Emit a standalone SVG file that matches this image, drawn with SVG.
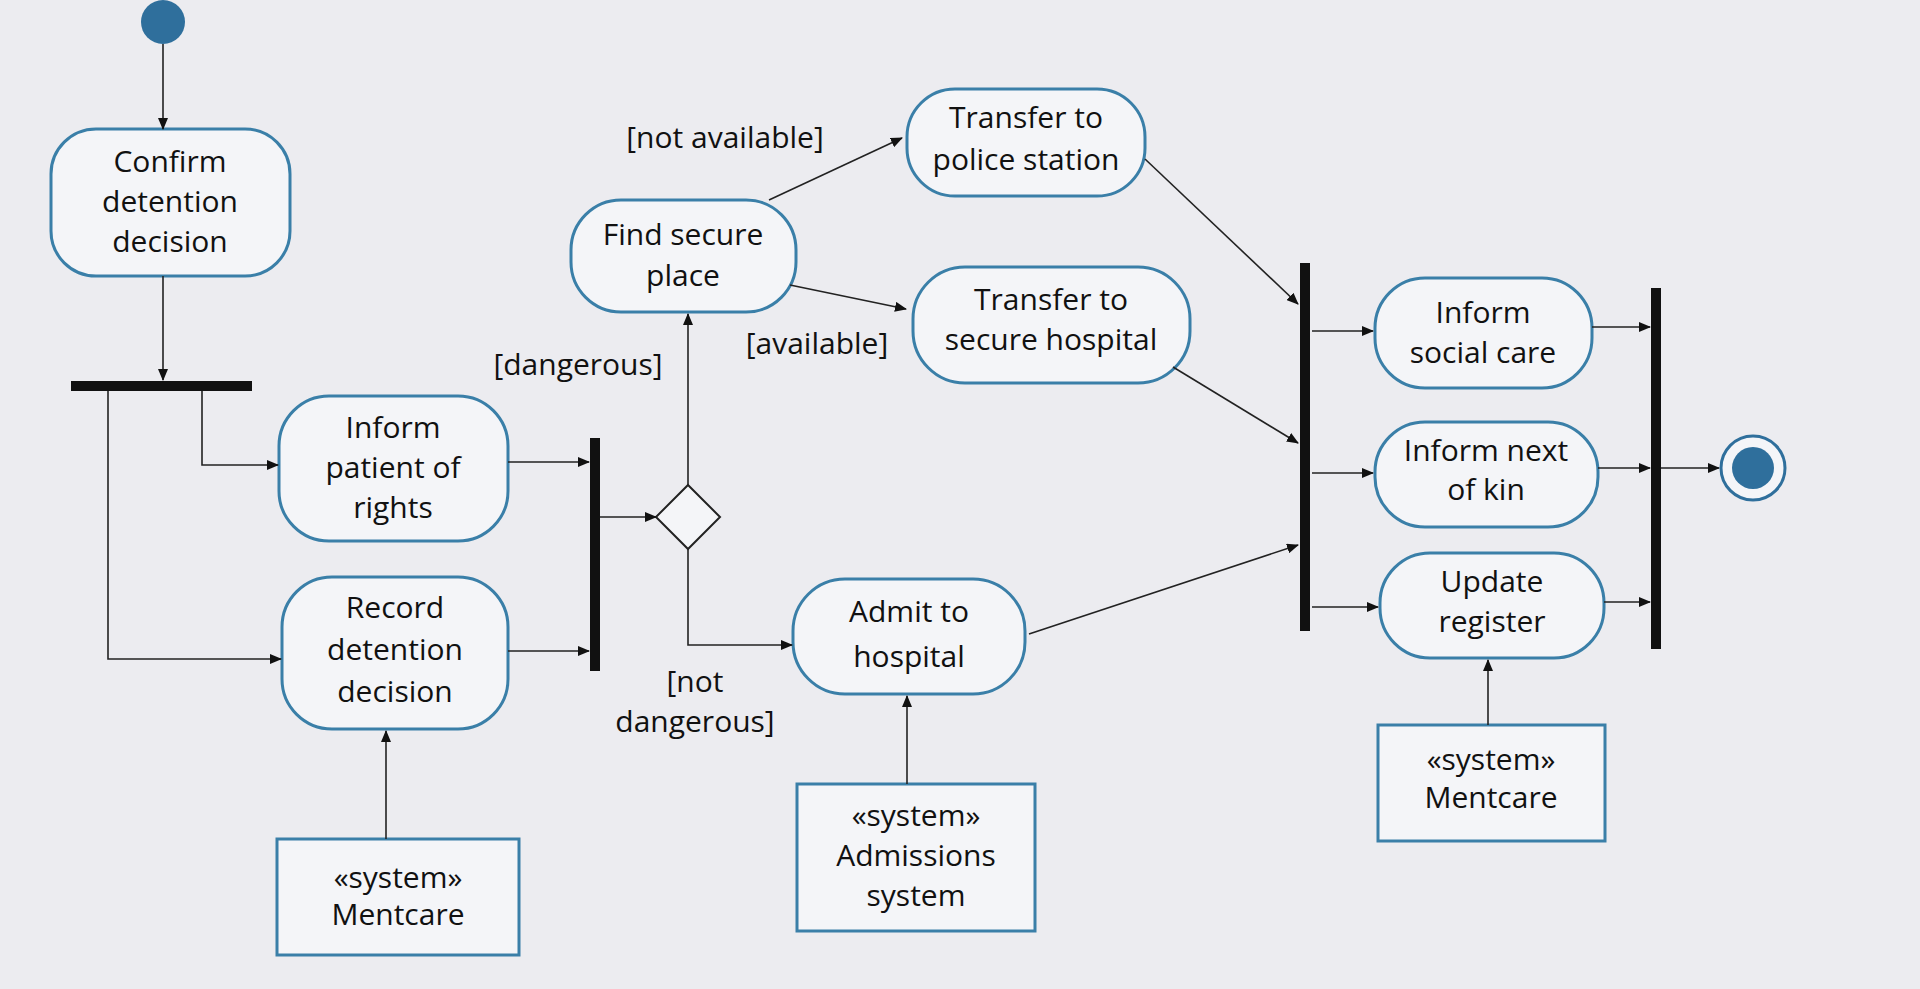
<svg xmlns="http://www.w3.org/2000/svg" width="1920" height="989" viewBox="0 0 1920 989">
<defs>
<marker id="ar" markerWidth="12" markerHeight="10" refX="11" refY="5" orient="auto" markerUnits="userSpaceOnUse"><path d="M0,0 L12,5 L0,10 z" fill="#111"/></marker>
<style>
.n{fill:#f4f5f8;stroke:#3a7fa8;stroke-width:3}
.t{font-family:"Open Sans","Liberation Sans",sans-serif;font-size:30px;fill:#111;text-anchor:middle}
.c{fill:none;stroke:#222;stroke-width:1.6;marker-end:url(#ar)}
.bar{fill:#111}
</style>
</defs>
<rect width="1920" height="989" fill="#ececf0"/>
<g id="start"><circle cx="163" cy="22" r="22" fill="#2f6f9c"/></g>
<g id="confirm"><rect class="n" x="51" y="129" width="239" height="147" rx="45"/><text class="t" x="170" y="172">Confirm</text><text class="t" x="170" y="212">detention</text><text class="t" x="170" y="252">decision</text></g>
<g id="fork1"><rect class="bar" x="71" y="381" width="181" height="10"/></g>
<g id="informPatient"><rect class="n" x="279" y="396" width="229" height="145" rx="50"/><text class="t" x="393" y="438">Inform</text><text class="t" x="393" y="478">patient of</text><text class="t" x="393" y="518">rights</text></g>
<g id="record"><rect class="n" x="282" y="577" width="226" height="152" rx="50"/><text class="t" x="395" y="618">Record</text><text class="t" x="395" y="660">detention</text><text class="t" x="395" y="702">decision</text></g>
<g id="join2"><rect class="bar" x="590" y="438" width="10" height="233"/></g>
<g id="decision"><polygon points="688,485 720,517 688,549 656,517" fill="#f4f5f8" stroke="#222" stroke-width="2"/></g>
<g id="findSecure"><rect class="n" x="571" y="200" width="225" height="112" rx="50"/><text class="t" x="683" y="245">Find secure</text><text class="t" x="683" y="286">place</text></g>
<g id="police"><rect class="n" x="907" y="89" width="238" height="107" rx="48"/><text class="t" x="1026" y="128">Transfer to</text><text class="t" x="1026" y="170">police station</text></g>
<g id="secureHospital"><rect class="n" x="913" y="267" width="277" height="116" rx="52"/><text class="t" x="1051" y="310">Transfer to</text><text class="t" x="1051" y="350">secure hospital</text></g>
<g id="admit"><rect class="n" x="793" y="579" width="232" height="115" rx="52"/><text class="t" x="909" y="622">Admit to</text><text class="t" x="909" y="667">hospital</text></g>
<g id="join3"><rect class="bar" x="1300" y="263" width="10" height="368"/></g>
<g id="social"><rect class="n" x="1375" y="278" width="217" height="110" rx="50"/><text class="t" x="1483" y="323">Inform</text><text class="t" x="1483" y="363">social care</text></g>
<g id="kin"><rect class="n" x="1375" y="422" width="223" height="105" rx="50"/><text class="t" x="1486" y="461">Inform next</text><text class="t" x="1486" y="500">of kin</text></g>
<g id="update"><rect class="n" x="1380" y="553" width="224" height="105" rx="50"/><text class="t" x="1492" y="592">Update</text><text class="t" x="1492" y="632">register</text></g>
<g id="join4"><rect class="bar" x="1651" y="288" width="10" height="361"/></g>
<g id="end"><circle cx="1753" cy="468" r="32" fill="#f4f5f8" stroke="#2f6f9c" stroke-width="3"/><circle cx="1753" cy="468" r="21" fill="#2f6f9c"/></g>
<g id="mentcare1"><rect class="n" x="277" y="839" width="242" height="116" stroke-width="4"/><text class="t" x="398" y="888">«system»</text><text class="t" x="398" y="925">Mentcare</text></g>
<g id="admissions"><rect class="n" x="797" y="784" width="238" height="147" stroke-width="4"/><text class="t" x="916" y="826">«system»</text><text class="t" x="916" y="866">Admissions</text><text class="t" x="916" y="906">system</text></g>
<g id="mentcare2"><rect class="n" x="1378" y="725" width="227" height="116" stroke-width="4"/><text class="t" x="1491" y="770">«system»</text><text class="t" x="1491" y="808">Mentcare</text></g>
<g id="labels">
<text class="t" x="725" y="148">[not available]</text>
<text class="t" x="817" y="354">[available]</text>
<text class="t" x="578" y="375">[dangerous]</text>
<text class="t" x="695" y="692">[not</text>
<text class="t" x="695" y="732">dangerous]</text>
</g>
<g id="connectors">
<path class="c" d="M163,44 V129" marker-end="none"/>
<path class="c" d="M163,276 V380"/>
<path class="c" d="M202,391 V465 H278"/>
<path class="c" d="M108,391 V659 H281"/>
<path class="c" d="M508,462 H589"/>
<path class="c" d="M508,651 H589"/>
<path class="c" d="M600,517 H656" marker-end="none"/>
<path class="c" d="M688,485 V314"/>
<path class="c" d="M688,549 V645 H792"/>
<path class="c" d="M769,200 L902,138"/>
<path class="c" d="M790,285 L906,309"/>
<path class="c" d="M1145,159 L1298,304"/>
<path class="c" d="M1173,367 L1298,443"/>
<path class="c" d="M1029,634 L1298,545"/>
<path class="c" d="M1312,331 H1373"/>
<path class="c" d="M1312,473 H1373"/>
<path class="c" d="M1312,607 H1378"/>
<path class="c" d="M1592,327 H1650"/>
<path class="c" d="M1598,468 H1650"/>
<path class="c" d="M1604,602 H1650"/>
<path class="c" d="M1661,468 H1719"/>
<path class="c" d="M386,839 V731"/>
<path class="c" d="M907,784 V696"/>
<path class="c" d="M1488,725 V660"/>
</g>
</svg>
